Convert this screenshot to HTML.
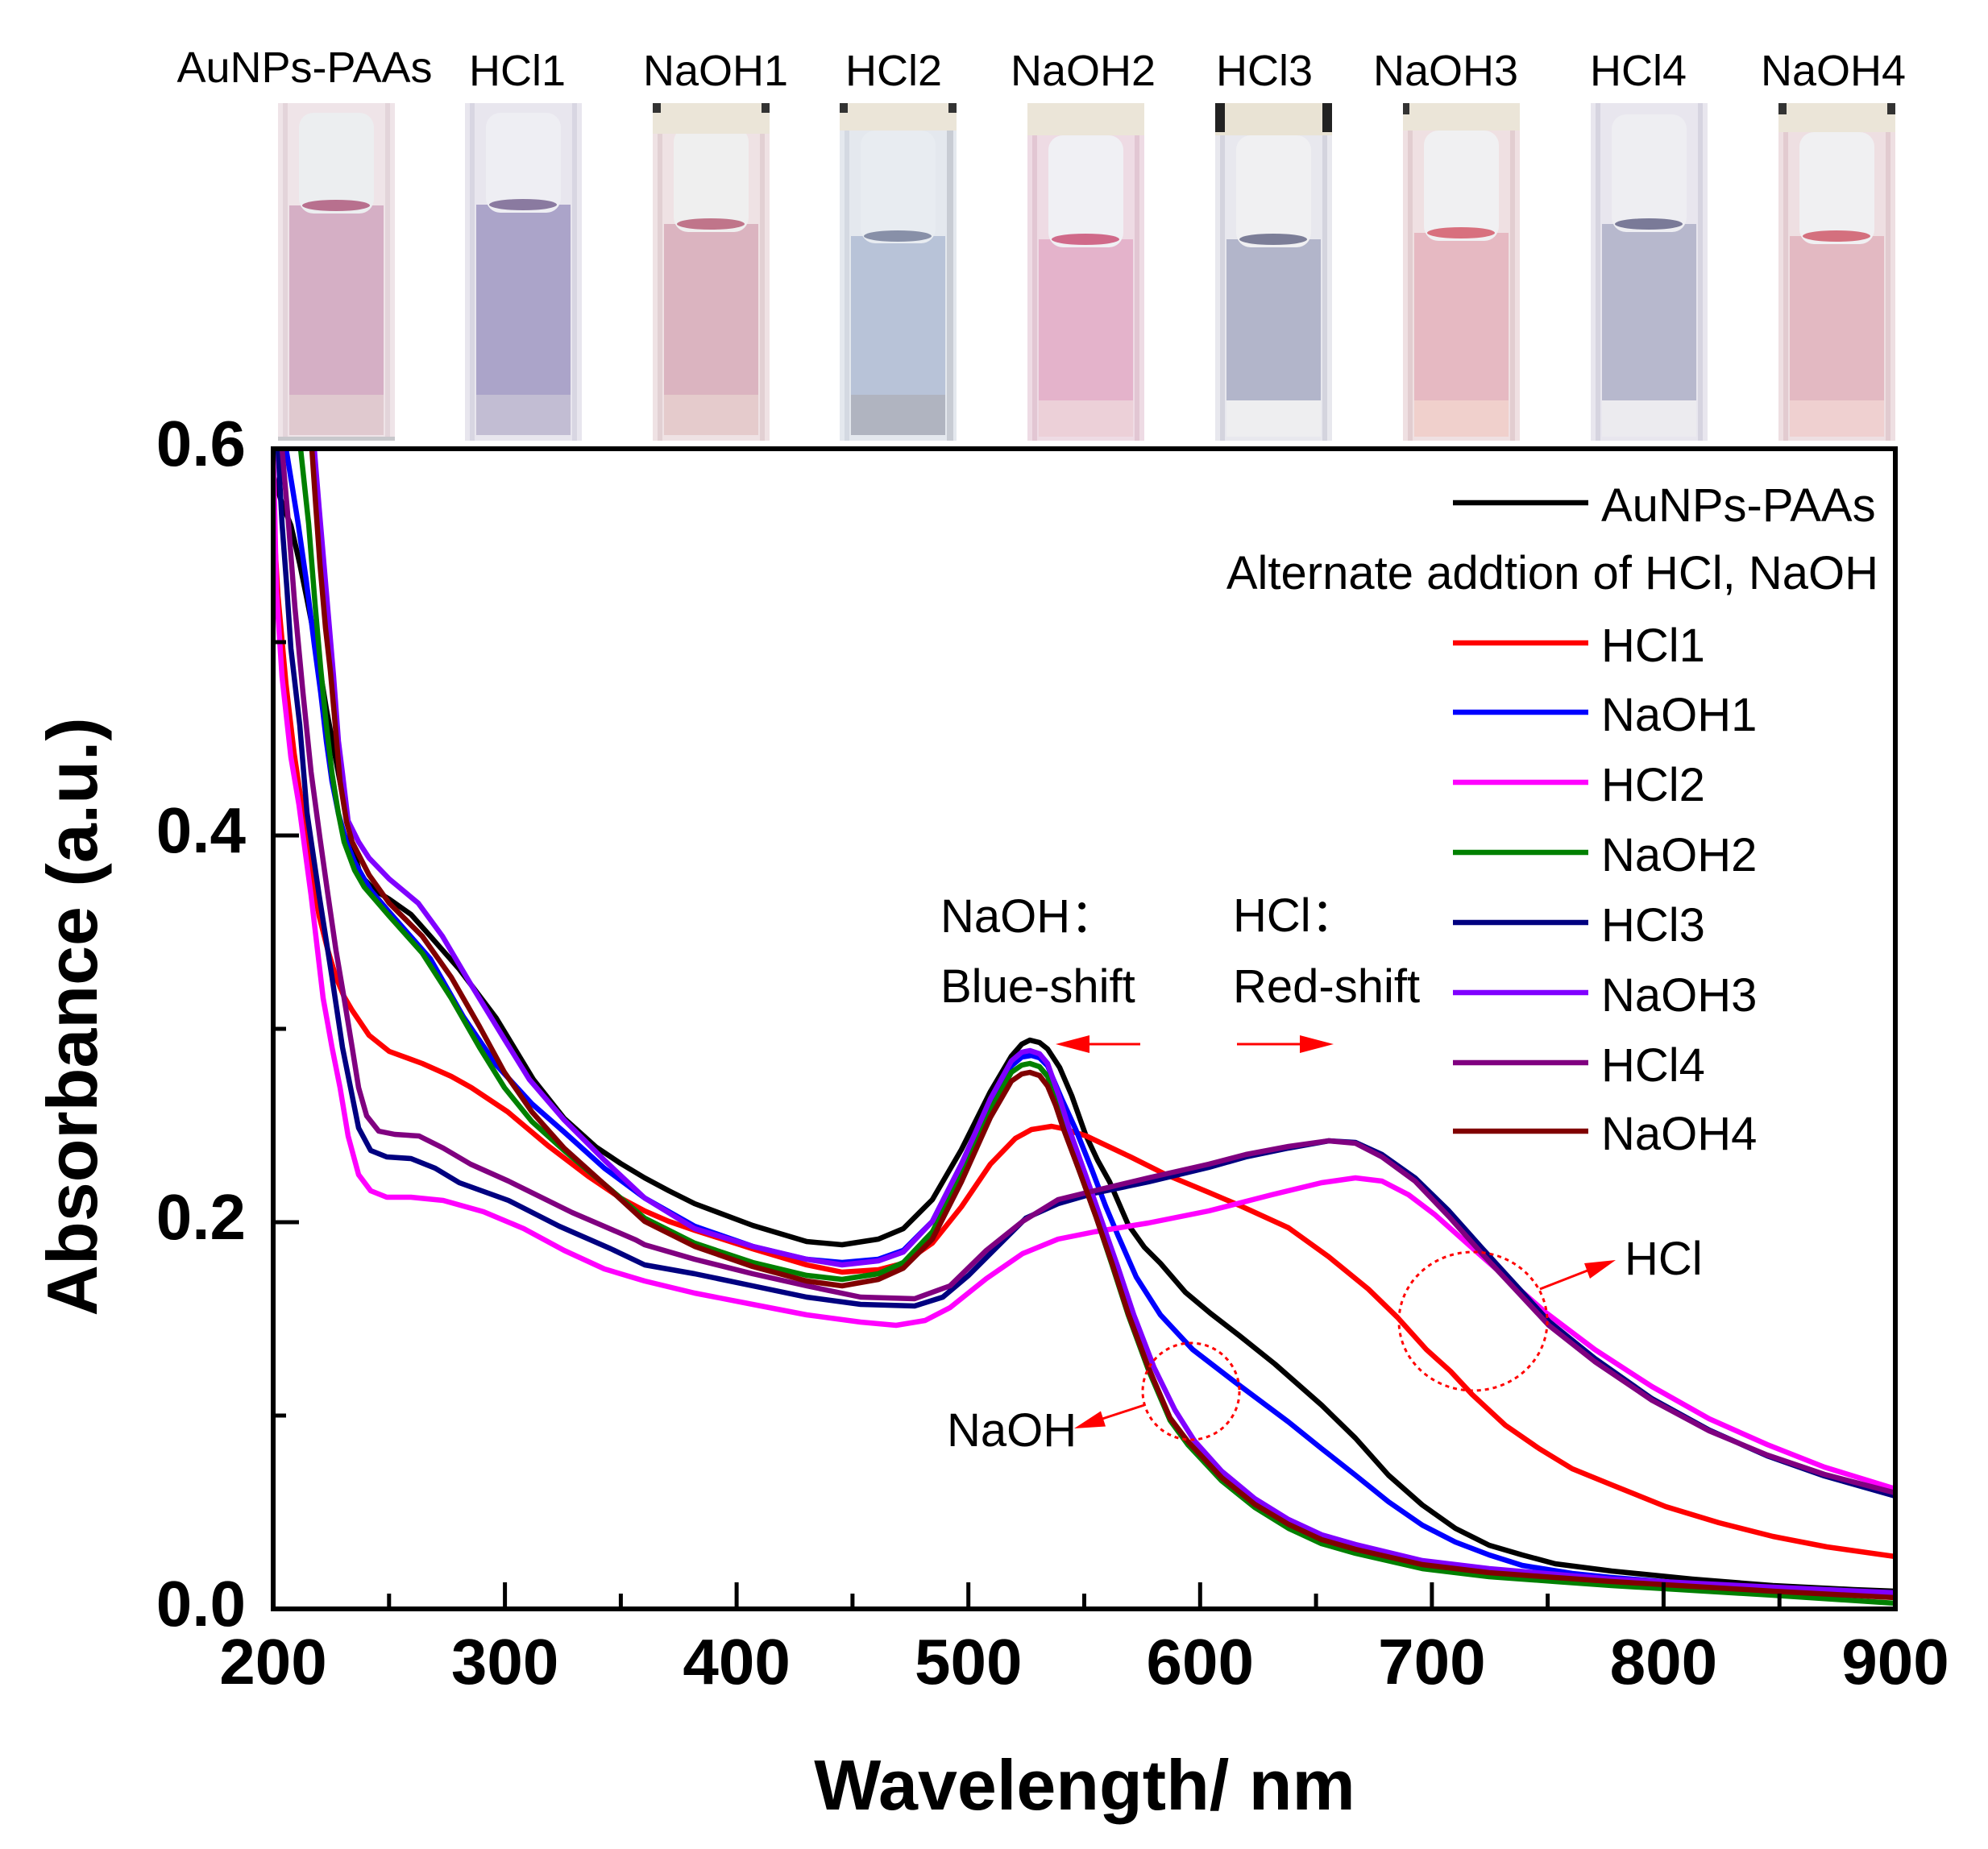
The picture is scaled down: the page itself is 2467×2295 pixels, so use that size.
<!DOCTYPE html>
<html><head><meta charset="utf-8"><style>
html,body{margin:0;padding:0;background:#fff;}
svg{display:block;}
text{font-family:"Liberation Sans",Arial,"Noto Sans CJK SC",sans-serif;}
</style></head><body>
<svg width="2467" height="2295" viewBox="0 0 2467 2295" xmlns="http://www.w3.org/2000/svg">
<rect width="2467" height="2295" fill="#fff"/>
<defs>
<clipPath id="pc"><rect x="339" y="557" width="2013" height="1440"/></clipPath>
<symbol id="cuv" viewBox="0 0 145 419"></symbol>
</defs>

<!-- top labels -->
<g font-size="54" fill="#000" text-anchor="middle">
<text x="378" y="102">AuNPs-PAAs</text>
<text x="642" y="106">HCl1</text>
<text x="888" y="106">NaOH1</text>
<text x="1109" y="106">HCl2</text>
<text x="1344" y="106">NaOH2</text>
<text x="1569" y="106">HCl3</text>
<text x="1794" y="106">NaOH3</text>
<text x="2033" y="106">HCl4</text>
<text x="2275" y="106">NaOH4</text>
</g>

<!-- cuvettes -->
<!-- 1 AuNPs -->
<g transform="translate(345,128)">
<rect x="0" y="0" width="145" height="419" fill="#efe4e8"/>
<rect x="6" y="0" width="6" height="419" fill="#e3d4da"/>
<rect x="133" y="0" width="6" height="419" fill="#e3d4da"/>
<rect x="14" y="127" width="117" height="235" fill="#d5afc5"/>
<rect x="26" y="12" width="93" height="125" rx="18" fill="#eceef0"/>
<ellipse cx="72" cy="127" rx="42" ry="7" fill="#b8708e"/>
<rect x="14" y="362" width="117" height="50" fill="#e0c9cf"/>
<rect x="0" y="414" width="145" height="5" fill="#c8c8cc"/>
</g>
<!-- 2 HCl1 -->
<g transform="translate(577,128)">
<rect x="0" y="0" width="145" height="419" fill="#e8e6ee"/>
<rect x="6" y="0" width="6" height="419" fill="#d8d6e2"/>
<rect x="133" y="0" width="6" height="419" fill="#d8d6e2"/>
<rect x="14" y="126" width="117" height="236" fill="#aba4c9"/>
<rect x="26" y="12" width="93" height="124" rx="18" fill="#eeeef3"/>
<ellipse cx="72" cy="126" rx="42" ry="7" fill="#8a7aa0"/>
<rect x="14" y="362" width="117" height="50" fill="#c2bdd3"/>
</g>
<!-- 3 NaOH1 -->
<g transform="translate(810,128)">
<rect x="0" y="0" width="145" height="419" fill="#efe2e4"/>
<rect x="6" y="0" width="6" height="419" fill="#e2d0d3"/>
<rect x="133" y="0" width="6" height="419" fill="#e2d0d3"/>
<rect x="14" y="150" width="117" height="212" fill="#dbb4c0"/>
<rect x="26" y="30" width="93" height="130" rx="18" fill="#efefef"/>
<ellipse cx="72" cy="150" rx="42" ry="7" fill="#c0758a"/>
<rect x="14" y="362" width="117" height="50" fill="#e5cbcc"/>
<rect x="0" y="0" width="145" height="38" fill="#ebe5d8"/>
<rect x="0" y="0" width="10" height="12" fill="#333"/>
<rect x="135" y="0" width="10" height="12" fill="#333"/>
</g>
<!-- 4 HCl2 -->
<g transform="translate(1042,128)">
<rect x="0" y="0" width="145" height="419" fill="#e4e8ee"/>
<rect x="6" y="0" width="6" height="419" fill="#d4d9e2"/>
<rect x="133" y="0" width="8" height="419" fill="#c8ccd4"/>
<rect x="14" y="165" width="117" height="197" fill="#b8c3d8"/>
<rect x="26" y="34" width="93" height="140" rx="18" fill="#e8ecf1"/>
<ellipse cx="72" cy="165" rx="42" ry="7" fill="#8890a8"/>
<rect x="14" y="362" width="117" height="50" fill="#b0b4c0"/>
<rect x="0" y="0" width="145" height="34" fill="#ebe5d8"/>
<rect x="0" y="0" width="10" height="12" fill="#333"/>
<rect x="135" y="0" width="10" height="12" fill="#333"/>
</g>
<!-- 5 NaOH2 -->
<g transform="translate(1275,128)">
<rect x="0" y="0" width="145" height="419" fill="#eedbe4"/>
<rect x="6" y="0" width="6" height="419" fill="#e2c6d3"/>
<rect x="133" y="0" width="6" height="419" fill="#e2c6d3"/>
<rect x="14" y="169" width="117" height="200" fill="#e4b3cb"/>
<rect x="26" y="40" width="93" height="139" rx="18" fill="#f0f0f4"/>
<ellipse cx="72" cy="169" rx="42" ry="7" fill="#d06a8a"/>
<rect x="14" y="369" width="117" height="45" fill="#ecd0d8"/>
<rect x="0" y="0" width="145" height="40" fill="#ebe5d8"/>
</g>
<!-- 6 HCl3 -->
<g transform="translate(1508,128)">
<rect x="0" y="0" width="145" height="419" fill="#e8e8ee"/>
<rect x="6" y="0" width="6" height="419" fill="#d4d4de"/>
<rect x="133" y="0" width="6" height="419" fill="#d4d4de"/>
<rect x="14" y="169" width="117" height="200" fill="#b2b5ca"/>
<rect x="26" y="40" width="93" height="139" rx="18" fill="#f0f0f2"/>
<ellipse cx="72" cy="169" rx="42" ry="7" fill="#7c7e98"/>
<rect x="14" y="369" width="117" height="45" fill="#eeeef0"/>
<rect x="0" y="0" width="145" height="40" fill="#e9e3d4"/>
<rect x="0" y="0" width="12" height="36" fill="#222"/>
<rect x="133" y="0" width="12" height="36" fill="#222"/>
</g>
<!-- 7 NaOH3 -->
<g transform="translate(1741,128)">
<rect x="0" y="0" width="145" height="419" fill="#efe0e2"/>
<rect x="6" y="0" width="6" height="419" fill="#e2cdd0"/>
<rect x="133" y="0" width="6" height="419" fill="#e2cdd0"/>
<rect x="14" y="161" width="117" height="208" fill="#e6b9c2"/>
<rect x="26" y="34" width="93" height="137" rx="18" fill="#f0f0f2"/>
<ellipse cx="72" cy="161" rx="42" ry="7" fill="#d8707e"/>
<rect x="14" y="369" width="117" height="45" fill="#f0d0cc"/>
<rect x="0" y="0" width="145" height="34" fill="#ebe5d8"/>
<rect x="0" y="0" width="8" height="14" fill="#333"/>
</g>
<!-- 8 HCl4 -->
<g transform="translate(1974,128)">
<rect x="0" y="0" width="145" height="419" fill="#e8e6ee"/>
<rect x="6" y="0" width="6" height="419" fill="#d6d4e0"/>
<rect x="133" y="0" width="6" height="419" fill="#d6d4e0"/>
<rect x="14" y="150" width="117" height="219" fill="#b7b8cd"/>
<rect x="26" y="14" width="93" height="146" rx="18" fill="#eeeef2"/>
<ellipse cx="72" cy="150" rx="42" ry="7" fill="#7a7a98"/>
<rect x="14" y="369" width="117" height="45" fill="#ecebef"/>
</g>
<!-- 9 NaOH4 -->
<g transform="translate(2207,128)">
<rect x="0" y="0" width="145" height="419" fill="#eedfe2"/>
<rect x="6" y="0" width="6" height="419" fill="#e2cbd0"/>
<rect x="133" y="0" width="6" height="419" fill="#e2cbd0"/>
<rect x="14" y="165" width="117" height="204" fill="#e3b9c2"/>
<rect x="26" y="36" width="93" height="139" rx="18" fill="#f0f0f2"/>
<ellipse cx="72" cy="165" rx="42" ry="7" fill="#d4707e"/>
<rect x="14" y="369" width="117" height="45" fill="#efd0d0"/>
<rect x="0" y="0" width="145" height="36" fill="#ebe5d8"/>
<rect x="0" y="0" width="10" height="14" fill="#333"/>
<rect x="135" y="0" width="10" height="14" fill="#333"/>
</g>

<!-- series -->
<g clip-path="url(#pc)" fill="none" stroke-width="6.5" stroke-linejoin="round" stroke-linecap="round">
<polyline stroke="#000000" points="339,590 350,625 361,652 372,700 381,744 392,800 405,880 420,960 435,1040 447,1086 465,1105 483,1116 510,1135 534,1162 570,1203 616,1264 662,1340 700,1388 740,1424 770,1444 800,1462 830,1478 862,1494 934,1521 1001,1541 1045,1545 1090,1538 1121,1525 1157,1489 1193,1427 1229,1355 1255,1311 1268,1296 1278,1291 1290,1294 1300,1302 1315,1325 1330,1360 1347,1408 1362,1440 1377,1467 1400,1520 1420,1548 1440,1568 1471,1604 1502,1630 1537,1657 1582,1693 1640,1744 1682,1785 1723,1831 1765,1868 1806,1897 1848,1918 1889,1930 1930,1941 2000,1950 2100,1960 2200,1968 2300,1973 2352,1975"/>
<polyline stroke="#ff0000" points="339,640 345,740 355,850 365,935 376,1009 386,1080 396,1137 407,1180 417,1213 427,1237 437,1254 458,1285 483,1305 524,1320 560,1336 585,1350 630,1380 680,1422 730,1460 770,1487 800,1503 830,1516 862,1527 934,1550 1001,1570 1045,1579 1090,1576 1121,1568 1157,1543 1193,1498 1229,1445 1260,1413 1280,1402 1305,1398 1320,1401 1348,1410 1403,1436 1447,1458 1500,1480 1540,1497 1599,1524 1649,1560 1698,1600 1734,1635 1770,1675 1800,1702 1827,1731 1868,1769 1910,1798 1951,1823 2000,1843 2067,1870 2133,1890 2200,1907 2267,1920 2352,1932"/>
<polyline stroke="#0000ff" points="355,557 362,600 370,650 380,720 390,800 398,860 405,920 412,970 420,1010 430,1045 440,1070 460,1105 483,1132 534,1190 575,1262 616,1322 660,1370 700,1405 750,1450 800,1487 862,1522 934,1547 1001,1563 1045,1567 1090,1563 1121,1552 1157,1516 1193,1445 1229,1369 1255,1323 1268,1312 1280,1310 1290,1313 1300,1323 1318,1365 1335,1402 1355,1452 1372,1497 1388,1535 1410,1585 1440,1632 1480,1675 1532,1715 1599,1765 1640,1798 1682,1831 1723,1864 1765,1893 1806,1914 1848,1930 1889,1943 1951,1953 2000,1958 2100,1966 2200,1972 2352,1978"/>
<polyline stroke="#ff00ff" points="339,557 341,640 343,733 350,840 361,940 371,999 386,1111 401,1239 412,1300 422,1350 432,1410 445,1458 460,1478 480,1486 510,1486 550,1490 600,1504 650,1525 700,1552 750,1575 800,1590 862,1605 934,1619 1001,1632 1068,1641 1112,1645 1148,1639 1179,1623 1224,1587 1269,1556 1313,1538 1358,1529 1425,1518 1500,1503 1578,1483 1640,1468 1682,1462 1715,1466 1748,1483 1781,1508 1827,1549 1868,1585 1918,1629 1979,1675 2050,1721 2121,1761 2193,1793 2264,1821 2352,1848"/>
<polyline stroke="#008000" points="373,557 383,650 391,750 398,830 405,900 412,960 420,1010 427,1045 440,1080 452,1101 483,1137 524,1183 560,1239 595,1300 626,1350 660,1392 700,1428 750,1470 800,1512 862,1543 934,1567 1001,1583 1045,1588 1090,1581 1121,1567 1157,1529 1193,1458 1229,1378 1255,1331 1268,1322 1278,1320 1290,1324 1300,1336 1310,1362 1320,1400 1340,1455 1360,1510 1380,1570 1400,1632 1425,1700 1452,1763 1474,1793 1516,1838 1557,1871 1599,1897 1640,1916 1682,1928 1765,1947 1848,1957 1930,1963 2000,1968 2200,1980 2352,1990"/>
<polyline stroke="#000080" points="345,557 350,650 356,730 361,805 372,900 381,1009 396,1111 412,1213 425,1300 435,1350 445,1400 460,1428 480,1436 510,1438 540,1450 570,1468 631,1490 694,1522 758,1550 800,1570 862,1581 934,1596 1001,1610 1068,1619 1135,1621 1170,1610 1202,1583 1238,1547 1273,1512 1313,1494 1358,1481 1425,1467 1500,1449 1546,1436 1599,1425 1649,1416 1682,1418 1715,1433 1756,1462 1798,1503 1839,1549 1881,1595 1922,1640 1979,1686 2050,1736 2121,1775 2193,1807 2264,1832 2352,1857"/>
<polyline stroke="#8000ff" points="390,557 396,630 402,700 408,770 414,840 420,920 425,960 432,1019 445,1045 458,1065 483,1091 519,1121 549,1162 585,1223 626,1290 657,1340 700,1390 750,1440 800,1487 862,1525 934,1547 1001,1563 1045,1570 1090,1565 1121,1554 1157,1516 1193,1445 1229,1364 1255,1317 1268,1306 1278,1304 1290,1308 1300,1320 1314,1360 1327,1402 1347,1458 1367,1515 1387,1572 1407,1632 1432,1697 1458,1750 1482,1788 1516,1826 1557,1860 1599,1886 1640,1905 1682,1917 1765,1937 1848,1947 1930,1954 2000,1960 2200,1970 2352,1977"/>
<polyline stroke="#800080" points="350,557 358,650 366,754 376,860 386,958 397,1040 407,1111 417,1180 427,1239 437,1300 445,1350 455,1385 470,1404 490,1408 520,1410 550,1425 584,1445 631,1466 710,1505 789,1539 800,1545 862,1563 934,1581 1001,1596 1068,1610 1135,1612 1179,1596 1224,1552 1269,1516 1313,1489 1358,1478 1425,1462 1500,1445 1546,1433 1599,1423 1649,1416 1682,1419 1715,1436 1756,1466 1798,1510 1839,1556 1881,1601 1922,1645 1979,1690 2050,1738 2121,1776 2193,1806 2264,1830 2352,1853"/>
<polyline stroke="#800000" points="387,557 392,630 397,700 404,780 410,833 416,900 422,970 430,1020 437,1045 458,1086 483,1121 524,1162 560,1213 595,1274 626,1331 660,1380 700,1425 750,1470 800,1516 862,1547 934,1572 1001,1590 1045,1596 1090,1588 1121,1574 1157,1538 1193,1467 1229,1387 1255,1342 1268,1333 1278,1331 1290,1335 1300,1348 1310,1372 1320,1402 1340,1455 1360,1510 1380,1568 1400,1630 1425,1697 1452,1760 1474,1789 1516,1834 1557,1867 1599,1892 1640,1911 1682,1923 1765,1942 1848,1952 1930,1958 2000,1963 2200,1975 2352,1983"/>
</g>

<!-- frame -->
<rect x="339" y="557" width="2013" height="1440" fill="none" stroke="#000" stroke-width="6"/>

<!-- ticks -->
<g stroke="#000" stroke-width="5">
<line x1="626.6" y1="1997" x2="626.6" y2="1964"/>
<line x1="914.1" y1="1997" x2="914.1" y2="1964"/>
<line x1="1201.7" y1="1997" x2="1201.7" y2="1964"/>
<line x1="1489.3" y1="1997" x2="1489.3" y2="1964"/>
<line x1="1776.9" y1="1997" x2="1776.9" y2="1964"/>
<line x1="2064.4" y1="1997" x2="2064.4" y2="1964"/>
<line x1="482.8" y1="1997" x2="482.8" y2="1978"/>
<line x1="770.4" y1="1997" x2="770.4" y2="1978"/>
<line x1="1057.9" y1="1997" x2="1057.9" y2="1978"/>
<line x1="1345.5" y1="1997" x2="1345.5" y2="1978"/>
<line x1="1633.1" y1="1997" x2="1633.1" y2="1978"/>
<line x1="1920.6" y1="1997" x2="1920.6" y2="1978"/>
<line x1="2208.2" y1="1997" x2="2208.2" y2="1978"/>
<line x1="339" y1="1517" x2="371" y2="1517"/>
<line x1="339" y1="1037" x2="371" y2="1037"/>
<line x1="339" y1="1757" x2="355" y2="1757"/>
<line x1="339" y1="1277" x2="355" y2="1277"/>
<line x1="339" y1="797" x2="355" y2="797"/>
</g>

<!-- tick labels -->
<g font-size="80" font-weight="bold" fill="#000">
<g text-anchor="end">
<text x="305" y="578">0.6</text>
<text x="305" y="1058">0.4</text>
<text x="305" y="1538">0.2</text>
<text x="305" y="2018">0.0</text>
</g>
<g text-anchor="middle">
<text x="339" y="2090">200</text>
<text x="626.6" y="2090">300</text>
<text x="914.1" y="2090">400</text>
<text x="1201.7" y="2090">500</text>
<text x="1489.3" y="2090">600</text>
<text x="1776.9" y="2090">700</text>
<text x="2064.4" y="2090">800</text>
<text x="2352" y="2090">900</text>
</g>
</g>

<!-- axis titles -->
<text x="1346" y="2246" font-size="88" font-weight="bold" text-anchor="middle">Wavelength/ nm</text>
<text transform="translate(120,1262) rotate(-90)" font-size="88" font-weight="bold" text-anchor="middle">Absorbance (a.u.)</text>

<!-- legend -->
<g stroke-width="6.5" stroke-linecap="butt">
<line x1="1803" y1="624" x2="1971" y2="624" stroke="#000000"/>
<line x1="1803" y1="798" x2="1971" y2="798" stroke="#ff0000"/>
<line x1="1803" y1="884" x2="1971" y2="884" stroke="#0000ff"/>
<line x1="1803" y1="971" x2="1971" y2="971" stroke="#ff00ff"/>
<line x1="1803" y1="1058" x2="1971" y2="1058" stroke="#008000"/>
<line x1="1803" y1="1145" x2="1971" y2="1145" stroke="#000080"/>
<line x1="1803" y1="1232" x2="1971" y2="1232" stroke="#8000ff"/>
<line x1="1803" y1="1319" x2="1971" y2="1319" stroke="#800080"/>
<line x1="1803" y1="1404" x2="1971" y2="1404" stroke="#800000"/>
</g>
<g font-size="58" fill="#000">
<text x="1987" y="647">AuNPs-PAAs</text>
<text x="2331" y="731" text-anchor="end">Alternate addtion of HCl, NaOH</text>
<text x="1987" y="821">HCl1</text>
<text x="1987" y="907">NaOH1</text>
<text x="1987" y="994">HCl2</text>
<text x="1987" y="1081">NaOH2</text>
<text x="1987" y="1168">HCl3</text>
<text x="1987" y="1255">NaOH3</text>
<text x="1987" y="1342">HCl4</text>
<text x="1987" y="1427">NaOH4</text>
</g>

<!-- annotations -->
<g font-size="58" fill="#000">
<text x="1167" y="1157">NaOH：</text>
<text x="1167" y="1244">Blue-shift</text>
<text x="1530" y="1156">HCl：</text>
<text x="1530" y="1244">Red-shift</text>
<text x="1175" y="1795">NaOH</text>
<text x="2016" y="1582">HCl</text>
</g>
<g fill="#ff0000" stroke="none">
<rect x="1350" y="1294.5" width="65" height="3"/>
<polygon points="1310,1296 1352,1285 1352,1307"/>
<rect x="1535" y="1294.5" width="80" height="3"/>
<polygon points="1655,1296 1613,1285 1613,1307"/>
<polygon points="1333,1773 1372,1770.5 1366,1751.5"/>
<polygon points="2005,1564 1973,1587 1966,1568"/>
</g>
<g stroke="#ff0000" stroke-width="3" fill="none">
<line x1="1420" y1="1744" x2="1368" y2="1761"/>
<line x1="1911" y1="1600" x2="1970" y2="1577"/>
<circle cx="1478" cy="1727" r="60" stroke-dasharray="5 5"/>
<ellipse cx="1828" cy="1640" rx="92" ry="86" stroke-dasharray="5 5"/>
</g>
</svg>
</body></html>
